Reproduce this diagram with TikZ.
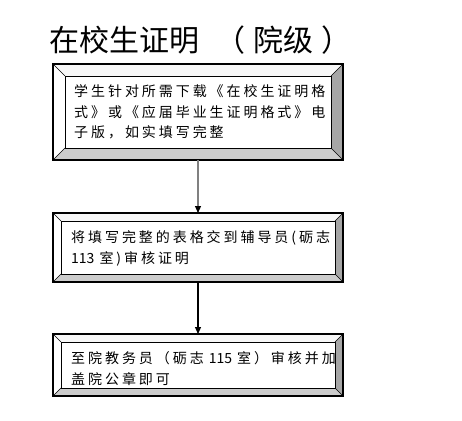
\documentclass[tikz,border=0pt]{standalone}
\usepackage{fontspec}
\newfontfamily\cjktitle{Noto Sans CJK SC}
\newfontfamily\cjkbody[LetterSpace=21]{Noto Sans CJK SC}
\newfontfamily\cjkplain{Noto Sans CJK SC}
\newcommand\digits[1]{{\cjkplain #1}}
\usetikzlibrary{arrows.meta,calc}
\newcommand\bevelframe[2]{%
  \fill[gray!6] (#1.north west) -- (#1.north east) -- ($(#1.north east)+(-#2,#2)$) -- ($(#1.north west)+(#2,#2)$) -- cycle;
  \fill[white] (#1.north west) -- ($(#1.north west)+(#2,#2)$) -- ($(#1.south west)+(#2,-#2)$) -- (#1.south west) -- cycle;
  \fill[gray!70] (#1.north east) -- (#1.south east) -- ($(#1.south east)+(-#2,-#2)$) -- ($(#1.north east)+(-#2,#2)$) -- cycle;
  \fill[gray!40] (#1.south west) -- (#1.south east) -- ($(#1.south east)+(-#2,-#2)$) -- ($(#1.south west)+(#2,-#2)$) -- cycle;
  \draw[line width=0.5pt] (#1.north west) -- ++(#2,#2);
  \draw[line width=0.5pt] (#1.north east) -- ++(-#2,#2);
  \draw[line width=0.5pt] (#1.south west) -- ++(#2,-#2);
  \draw[line width=0.5pt] (#1.south east) -- ++(-#2,-#2);
  \draw[line width=1pt, fill=white] ($(#1.north west)+(#2,#2)$) rectangle ($(#1.south east)+(-#2,-#2)$);
  \draw[line width=1.3pt] (#1.north west) rectangle (#1.south east);
}
\begin{document}
\begin{tikzpicture}[x=1pt,y=-1pt,
  outerbox/.style={rectangle, minimum width=290pt, inner sep=0pt, outer sep=0pt},
  bodytext/.style={anchor=west, align=left, inner sep=0pt, font=\cjkbody\fontsize{14pt}{20.5pt}\selectfont},
  flow/.style={-{Triangle[length=7pt,width=6pt,color=black]}, line width=1.1pt}
]
\useasboundingbox (0,0) rectangle (462,420);
\fill[white] (0,0) rectangle (462,420);

\node[anchor=west, inner sep=0pt, font=\cjktitle\fontsize{30pt}{34pt}\selectfont] (title) at (49,40) {在校生证明\hspace{16pt}（\hspace{8pt}院级\hspace{8pt}）};

\node[outerbox, minimum height=96pt] (b1) at (198,112) {};
\node[outerbox, minimum height=69pt] (b2) at (198,247.5) {};
\node[outerbox, minimum height=62pt] (b3) at (198,365) {};

\bevelframe{b1}{12}
\bevelframe{b2}{8}
\bevelframe{b3}{8}

\node[bodytext] (t1) at (74,112) {学生针对所需下载《在校生证明格\\式》或《应届毕业生证明格式》电\\子版，如实填写完整};
\node[bodytext] (t2) at (71,248.5) {将填写完整的表格交到辅导员(砺志\\\digits{113}\hspace{5pt}室)审核证明};
\node[bodytext] (t3) at (71,368.5) {至院教务员（砺志\hspace{5pt}\digits{115}\hspace{5pt}室）审核并加\\盖院公章即可};

\draw[flow, draw=gray] (b1.south) -- (b2.north);
\draw[flow] (b2.south) -- (b3.north);
\end{tikzpicture}
\end{document}
